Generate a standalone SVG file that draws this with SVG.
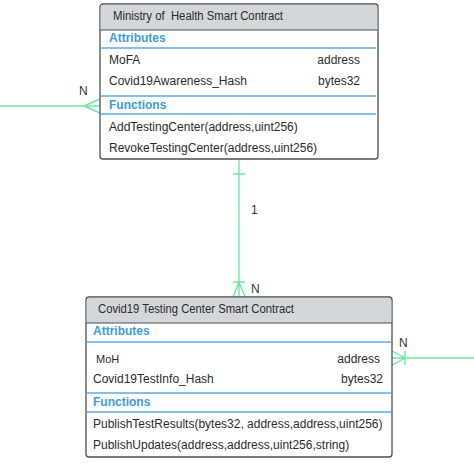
<svg xmlns="http://www.w3.org/2000/svg" width="474" height="474" viewBox="0 0 474 474">
<style>
.box{fill:#ffffff;stroke:#4a4f55;stroke-width:1.3}
.hdr{fill:#d3d7d9}
.sep{stroke:#5da8e2;stroke-width:1.3}
.hsep{stroke:#4a4f55;stroke-width:1.2}
.t{font-family:"Liberation Sans",Arial,sans-serif;font-size:12px;fill:#2b2b2b}
.h{font-family:"Liberation Sans",Arial,sans-serif;font-size:12px;fill:#2b2b2b}
.s{font-family:"Liberation Sans",Arial,sans-serif;font-size:12px;font-weight:bold;fill:#3d9bd8}
.c{stroke:#6ee6a4;stroke-width:1.4;fill:none}
.l{font-family:"Liberation Sans",Arial,sans-serif;font-size:12px;fill:#333}
</style>
<rect width="474" height="474" fill="#ffffff"/>
<g id="connectors">
<path class="c" d="M0 106H100M84 106L100 99M84 106L100 113"/>
<path class="c" d="M239 159V297M233 174H245M233 282H245M239 282L233 297M239 282L245 297"/>
<path class="c" d="M392 358H474M405 358L392 351M405 358L392 365M405 351V365"/>
<text class="l" x="79" y="95">N</text>
<text class="l" x="251" y="214">1</text>
<text class="l" x="251" y="293">N</text>
<text class="l" x="399" y="347">N</text>
</g>
<g id="ministry">
<rect class="box" x="100" y="4" width="278" height="155" rx="3"/>
<path class="hdr" d="M103 4.7H375A2.3 2.3 0 0 1 377.3 7V30H100.7V7A2.3 2.3 0 0 1 103 4.7Z"/>
<line class="hsep" x1="100" y1="30" x2="378" y2="30"/>
<text class="h" x="113" y="20" textLength="170" lengthAdjust="spacingAndGlyphs">Ministry of&#160; Health Smart Contract</text>
<text class="s" x="109" y="42">Attributes</text>
<line class="sep" x1="101" y1="48" x2="376" y2="48"/>
<text class="t" x="109" y="64">MoFA</text>
<text class="t" x="360" y="64" text-anchor="end">address</text>
<text class="t" x="109" y="85">Covid19Awareness_Hash</text>
<text class="t" x="360" y="85" text-anchor="end">bytes32</text>
<line class="sep" x1="101" y1="96" x2="376" y2="96"/>
<text class="s" x="109" y="109">Functions</text>
<line class="sep" x1="101" y1="114" x2="376" y2="114"/>
<text class="t" x="109" y="131">AddTestingCenter(address,uint256)</text>
<text class="t" x="109" y="152">RevokeTestingCenter(address,uint256)</text>
</g>
<g id="testing">
<rect class="box" x="86" y="297" width="306" height="160" rx="3"/>
<path class="hdr" d="M89 297.7H389A2.3 2.3 0 0 1 391.3 300V323H86.7V300A2.3 2.3 0 0 1 89 297.7Z"/>
<line class="hsep" x1="86" y1="323" x2="392" y2="323"/>
<text class="h" x="98" y="313" textLength="196" lengthAdjust="spacingAndGlyphs">Covid19 Testing Center Smart Contract</text>
<text class="s" x="93" y="335">Attributes</text>
<line class="sep" x1="87" y1="342" x2="391" y2="342"/>
<text class="t" x="96" y="363" style="font-size:11px">MoH</text>
<text class="t" x="380" y="363" text-anchor="end">address</text>
<text class="t" x="93" y="383">Covid19TestInfo_Hash</text>
<text class="t" x="383" y="383" text-anchor="end">bytes32</text>
<line class="sep" x1="87" y1="393" x2="391" y2="393"/>
<text class="s" x="93" y="406">Functions</text>
<line class="sep" x1="87" y1="412" x2="391" y2="412"/>
<text class="t" x="93" y="428">PublishTestResults(bytes32, address,address,uint256)</text>
<text class="t" x="93" y="449">PublishUpdates(address,address,uint256,string)</text>
</g>
</svg>
